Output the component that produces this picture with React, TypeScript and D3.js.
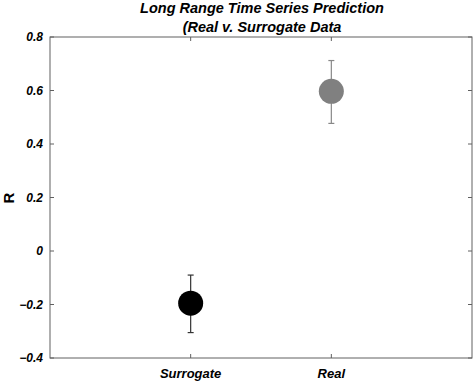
import React from "react";
import * as d3 from "d3";

const categories = ["Surrogate", "Real"];
const means = [-0.195, 0.597];
const upper = [-0.09, 0.712];
const lower = [-0.305, 0.477];
const colors = ["#000000", "#808080"];
const yTicks = [-0.4, -0.2, 0, 0.2, 0.4, 0.6, 0.8];

const W = 474, H = 384;
const m = { left: 50, right: 2, top: 37, bottom: 26 };

export default function App() {
  const x = d3.scaleLinear().domain([0, 3]).range([m.left, W - m.right]);
  const y = d3.scaleLinear().domain([-0.4, 0.8]).range([H - m.bottom, m.top]);
  const font = "Arial, 'Liberation Sans', sans-serif";
  const axisColor = "#606060";
  const x0 = m.left, x1 = W - m.right, y0 = H - m.bottom, y1 = m.top;
  const tl = 4;
  return (
    <svg width={W} height={H} style={{ position: "absolute", left: 0, top: 0, background: "#fff" }}>
      <rect x={0} y={0} width={W} height={H} fill="#fff" />
      <text x={(x0 + x1) / 2 + 1} y={13} textAnchor="middle" fontFamily={font} fontWeight="bold" fontStyle="italic" fontSize={14.5}>Long Range Time Series Prediction</text>
      <text x={(x0 + x1) / 2 + 1} y={32} textAnchor="middle" fontFamily={font} fontWeight="bold" fontStyle="italic" fontSize={14.5}>(Real v. Surrogate Data</text>
      <rect x={x0} y={y1} width={x1 - x0} height={y0 - y1} fill="none" stroke={axisColor} strokeWidth={1} />
      {yTicks.map((t) => (
        <g key={t}>
          <line x1={x0} x2={x0 + tl} y1={y(t)} y2={y(t)} stroke={axisColor} />
          <line x1={x1} x2={x1 - tl} y1={y(t)} y2={y(t)} stroke={axisColor} />
          <text x={x0 - 7} y={y(t)} dy="0.35em" textAnchor="end" fontFamily={font} fontWeight="bold" fontStyle="italic" fontSize={12}>{t === 0 ? "0" : d3.format(".1f")(t)}</text>
        </g>
      ))}
      {categories.map((c, i) => (
        <g key={c}>
          <line x1={x(i + 1)} x2={x(i + 1)} y1={y0} y2={y0 - tl} stroke={axisColor} />
          <line x1={x(i + 1)} x2={x(i + 1)} y1={y1} y2={y1 + tl} stroke={axisColor} />
          <text x={x(i + 1)} y={y0 + 20} textAnchor="middle" fontFamily={font} fontWeight="bold" fontStyle="italic" fontSize={13}>{c}</text>
        </g>
      ))}
      <text transform={`translate(13.5,${198}) rotate(-90)`} textAnchor="middle" fontFamily={font} fontWeight="bold" fontSize={15}>R</text>
      {categories.map((c, i) => (
        <g key={c + "e"}>
          <line x1={x(i + 1)} x2={x(i + 1)} y1={y(lower[i])} y2={y(upper[i])} stroke={i === 0 ? "#333" : "#888"} strokeWidth={1.2} />
          <line x1={x(i + 1) - 3} x2={x(i + 1) + 3} y1={y(upper[i])} y2={y(upper[i])} stroke={i === 0 ? "#333" : "#888"} strokeWidth={1.2} />
          <line x1={x(i + 1) - 3} x2={x(i + 1) + 3} y1={y(lower[i])} y2={y(lower[i])} stroke={i === 0 ? "#333" : "#888"} strokeWidth={1.2} />
          <circle cx={x(i + 1)} cy={y(means[i])} r={12.5} fill={colors[i]} />
        </g>
      ))}
    </svg>
  );
}
